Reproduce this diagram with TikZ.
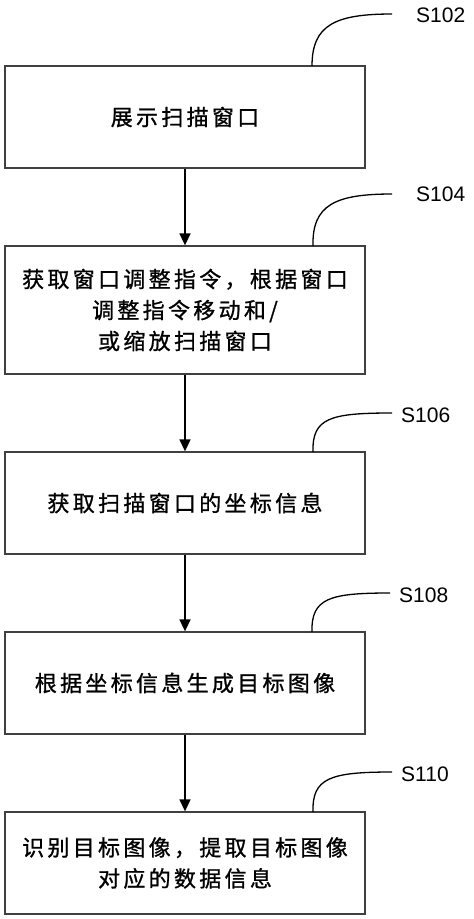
\documentclass[tikz,border=0pt]{standalone}
\usepackage{fontspec}
\setmainfont{Liberation Sans}
\newfontfamily\cjk[LetterSpace=15,FakeBold=1]{Noto Sans CJK SC}
\usetikzlibrary{arrows.meta}
\begin{document}
\begin{tikzpicture}[x=1pt,y=-1pt,
  stepbox/.style={draw=black!75, line width=1.3pt, minimum width=360pt, minimum height=102pt, inner sep=0pt, align=center, font=\cjk\fontsize{22}{31}\selectfont},
  flow/.style={line width=1.6pt, -{Triangle[length=12pt,width=11pt]}},
  tag/.style={anchor=west, inner sep=0pt, font=\fontsize{21}{24}\selectfont},
  lead/.style={line width=1.3pt}]
\useasboundingbox (0,0) rectangle (474,919);

\node[stepbox] (b1) at (185,117) {展示扫描窗口};
\node[stepbox, minimum height=128pt] (b2) at (185,310) {获取窗口调整指令，根据窗口\\调整指令移动和/\\或缩放扫描窗口};
\node[stepbox] (b3) at (185,503) {获取扫描窗口的坐标信息};
\node[stepbox] (b4) at (185,683) {根据坐标信息生成目标图像};
\node[stepbox] (b5) at (185,863) {识别目标图像，提取目标图像\\对应的数据信息};

\draw[flow] (b1.south) -- (b2.north);
\draw[flow] (b2.south) -- (b3.north);
\draw[flow] (b3.south) -- (b4.north);
\draw[flow] (b4.south) -- (b5.north);

\node[tag] (t1) at (416,15) {S102};
\node[tag] (t2) at (416,194) {S104};
\node[tag] (t3) at (401,415) {S106};
\node[tag] (t4) at (399,595) {S108};
\node[tag] (t5) at (401,774) {S110};

\coordinate (s1) at (312,66);  \coordinate (e1) at (392,14);
\coordinate (s2) at (313,246); \coordinate (e2) at (392,194);
\coordinate (s3) at (313,452); \coordinate (e3) at (392,413);
\coordinate (s4) at (312,632); \coordinate (e4) at (390,593);
\coordinate (s5) at (313,812); \coordinate (e5) at (392,772);

\draw[lead] (s1) .. controls (312,25) and (335,14) .. (e1);
\draw[lead] (s2) .. controls (312,205) and (335,194) .. (e2);
\draw[lead] (s3) .. controls (312,418) and (330,413) .. (e3);
\draw[lead] (s4) .. controls (311,598) and (330,593) .. (e4);
\draw[lead] (s5) .. controls (312,778) and (330,772) .. (e5);
\end{tikzpicture}
\end{document}
